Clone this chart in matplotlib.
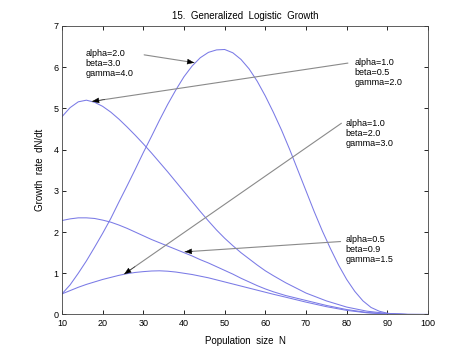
import matplotlib
matplotlib.use("Agg")
import matplotlib.pyplot as plt

plt.rcParams['font.family'] = ['Liberation Sans', 'DejaVu Sans']

# values
n_a = [10, 12, 14, 16, 18, 20, 22, 24, 26, 28, 30, 32, 34, 36, 38, 40, 42, 44, 46, 48, 50,
       52, 54, 56, 58, 60, 62, 64, 66, 68, 70, 72, 74, 76, 78, 80, 82, 84, 86, 88, 90, 92,
       95, 100]
g_a = [0.5, 0.72, 1.0, 1.3, 1.63, 1.97, 2.33, 2.73, 3.12, 3.52, 3.93, 4.32, 4.72, 5.1, 5.45,
       5.77, 6.03, 6.23, 6.36, 6.42, 6.43, 6.35, 6.19, 5.96, 5.66, 5.3, 4.9, 4.47, 4.0, 3.5,
       3.0, 2.5, 2.03, 1.6, 1.2, 0.85, 0.56, 0.33, 0.17, 0.08, 0.03, 0.01, 0.0, 0.0]

n_b = [10, 12, 14, 16, 18, 20, 22, 24, 26, 28, 30, 32, 34, 36, 38, 40, 42, 44, 46, 48, 50,
       52, 54, 56, 58, 60, 62, 65, 70, 75, 80, 85, 90, 95, 100]
g_b = [4.8, 5.02, 5.16, 5.2, 5.15, 5.05, 4.91, 4.74, 4.55, 4.35, 4.14, 3.92, 3.69, 3.46,
       3.22, 2.98, 2.74, 2.5, 2.27, 2.05, 1.85, 1.67, 1.5, 1.35, 1.2, 1.06, 0.94, 0.77, 0.52,
       0.33, 0.18, 0.08, 0.025, 0.003, 0.0]

n_d = [10, 12, 14, 16, 18, 20, 22, 24, 26, 28, 30, 32, 34, 36, 38, 40, 42, 44, 46, 48, 50,
       52, 54, 56, 58, 60, 62, 65, 70, 75, 80, 85, 90, 95, 100]
g_d = [2.28, 2.32, 2.345, 2.345, 2.33, 2.29, 2.24, 2.17, 2.09, 2.0, 1.91, 1.82, 1.74, 1.66,
       1.58, 1.5, 1.42, 1.33, 1.25, 1.16, 1.07, 0.98, 0.88, 0.79, 0.7, 0.62, 0.55, 0.46,
       0.34, 0.22, 0.12, 0.05, 0.015, 0.002, 0.0]

n_e = [10, 12, 14, 16, 18, 20, 22, 24, 26, 28, 30, 32, 34, 36, 38, 40, 42, 44, 46, 48, 50,
       52, 54, 56, 58, 60, 62, 65, 70, 75, 80, 85, 90, 95, 100]
g_e = [0.5, 0.58, 0.66, 0.73, 0.79, 0.85, 0.9, 0.95, 0.99, 1.02, 1.04, 1.055, 1.06, 1.05,
       1.03, 1.0, 0.97, 0.93, 0.89, 0.84, 0.79, 0.74, 0.69, 0.64, 0.59, 0.54, 0.49, 0.42,
       0.3, 0.19, 0.1, 0.04, 0.01, 0.0, 0.0]

labels = ["alpha=2.0\nbeta=3.0\ngamma=4.0",
          "alpha=1.0\nbeta=0.5\ngamma=2.0",
          "alpha=1.0\nbeta=2.0\ngamma=3.0",
          "alpha=0.5\nbeta=0.9\ngamma=1.5"]
arrow_tips = [(42.5, 6.11), (17.4, 5.17), (25.3, 0.98), (40.2, 1.52)]
arrow_tails = [(30.2, 6.30), (80.3, 6.10), (78.7, 4.64), (78.5, 1.77)]
text_pos = [(15.7, 6.44), (82.0, 6.22), (79.8, 4.74), (79.8, 1.93)]

fig = plt.figure(figsize=(4.74, 3.48), dpi=100)
ax = fig.add_axes([0.1308, 0.0963, 0.7722, 0.829])

line_color = "#7a7ae6"
for xs, ys in [(n_a, g_a), (n_b, g_b), (n_d, g_d), (n_e, g_e)]:
    ax.plot(xs, ys, color=line_color, linewidth=0.75)

for lab, tip, tail, tp in zip(labels, arrow_tips, arrow_tails, text_pos):
    ax.annotate("", xy=tip, xytext=tail,
                arrowprops=dict(arrowstyle="-", color="#8a8a8a", lw=0.8,
                                shrinkA=0, shrinkB=0))
    ax.annotate("", xy=tip, xytext=(tip[0] + (tail[0] - tip[0]) * 0.05,
                                    tip[1] + (tail[1] - tip[1]) * 0.05),
                arrowprops=dict(arrowstyle="-|>,head_length=0.45,head_width=0.18",
                                color="black", lw=0.3, shrinkA=0, shrinkB=0))
    ax.text(tp[0], tp[1], lab, fontsize=6.5, va="top", ha="left", linespacing=1.15)

ax.set_xlim(10, 100)
ax.set_ylim(0, 7)
ax.set_xticks(range(10, 101, 10))
ax.set_yticks(range(0, 8))
ax.tick_params(direction="in", top=True, right=True, labelsize=6.5, length=3,
               width=0.6)
ax.tick_params(axis="x", pad=3)
ax.tick_params(axis="y", pad=2.5)
for s in ax.spines.values():
    s.set_linewidth(0.6)
    s.set_color("#444444")

ax.set_title("15.  Generalized  Logistic  Growth", fontsize=7, pad=5)
ax.set_xlabel("Population  size  N", fontsize=7, labelpad=6)
ax.set_ylabel("Growth  rate  dN/dt", fontsize=7, labelpad=6)

fig.savefig("out.png", dpi=100)
